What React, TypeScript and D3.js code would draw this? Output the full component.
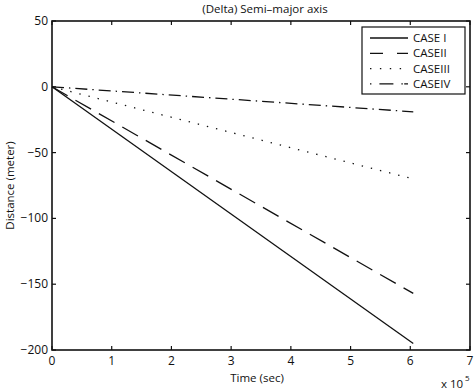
import React from 'react';
import * as d3 from 'd3';

// end points of each case (time in 1e5 sec, distance in meter); all start at origin
const cases = ['CASE I', 'CASEII', 'CASEIII', 'CASEIV'];
const timeValues = [0, 6.05];
const caseI = [0, -195];
const caseII = [0, -157];
const caseIII = [0, -70];
const caseIV = [0, -19];
const xTicks = [0, 1, 2, 3, 4, 5, 6, 7];
const yTicks = [-200, -150, -100, -50, 0, 50];

const series = [caseI, caseII, caseIII, caseIV];
const dashes = ['none', '18,9', '1.4,8', '12,5,1.4,5'];
const legendDashes = ['none', '13,14', '1.4,8.5', '1.4,8,14,8,1.4'];

const W = 474;
const H = 391;
const left = 52;
const right = 470;
const top = 21;
const bottom = 350;
const font = "'Open Sans', 'DejaVu Sans', sans-serif";

const App: React.FC = () => {
  const x = d3.scaleLinear().domain([0, 7]).range([left, right]);
  const y = d3.scaleLinear().domain([-200, 50]).range([bottom, top]);
  const line = d3.line<number>()
    .x((_, i) => x(timeValues[i]))
    .y(d => y(d));

  const tickLen = 4;

  return (
    <svg width={W} height={H} style={{ position: 'absolute', left: 0, top: 0, background: '#fff' }}
      fontFamily={font}>
      <rect x={0} y={0} width={W} height={H} fill="#fff" />
      <text x={(left + right) / 2 + 4} y={13} fontSize={11.5} textAnchor="middle" fill="#111">
        (Delta) Semi–major axis
      </text>

      {series.map((s, i) => (
        <path key={cases[i]} d={line(s) || ''} fill="none" stroke="#111" strokeWidth={1.3}
          strokeDasharray={dashes[i]} />
      ))}

      {/* frame */}
      <rect x={left} y={top} width={right - left} height={bottom - top} fill="none" stroke="#111" strokeWidth={1.6} />

      {xTicks.map(t => (
        <g key={'x' + t}>
          <line x1={x(t)} x2={x(t)} y1={bottom} y2={bottom - tickLen} stroke="#111" strokeWidth={1.2} />
          <line x1={x(t)} x2={x(t)} y1={top} y2={top + tickLen} stroke="#111" strokeWidth={1.2} />
          <text x={x(t)} y={bottom + 15} fontSize={12} textAnchor="middle" fill="#111">{t}</text>
        </g>
      ))}
      {yTicks.map(t => (
        <g key={'y' + t}>
          <line x1={left} x2={left + tickLen} y1={y(t)} y2={y(t)} stroke="#111" strokeWidth={1.2} />
          <line x1={right} x2={right - tickLen} y1={y(t)} y2={y(t)} stroke="#111" strokeWidth={1.2} />
          <text x={left - 4} y={y(t) + 4} fontSize={12} textAnchor="end" fill="#111">
            {t < 0 ? '−' + Math.abs(t) : t}
          </text>
        </g>
      ))}

      <text x={(left + right) / 2 - 4} y={382} fontSize={11.5} textAnchor="middle" fill="#111">Time (sec)</text>
      <text x={441} y={388} fontSize={11.5} fill="#111">x 10</text>
      <text x={465} y={381} fontSize={8} fill="#111">5</text>
      <text transform={`translate(14,${(top + bottom) / 2}) rotate(-90)`} fontSize={11.5}
        textAnchor="middle" fill="#111">Distance (meter)</text>

      {/* legend */}
      <g>
        <rect x={362} y={27} width={103} height={67} fill="#fff" stroke="#111" strokeWidth={1.2} />
        {cases.map((c, i) => (
          <g key={c}>
            <line x1={370} x2={408} y1={38 + i * 15.3} y2={38 + i * 15.3} stroke="#111" strokeWidth={1.3}
              strokeDasharray={legendDashes[i]} />
            <text x={413} y={42 + i * 15.3} fontSize={11.5} fill="#111">{c}</text>
          </g>
        ))}
      </g>
    </svg>
  );
};

export default App;
